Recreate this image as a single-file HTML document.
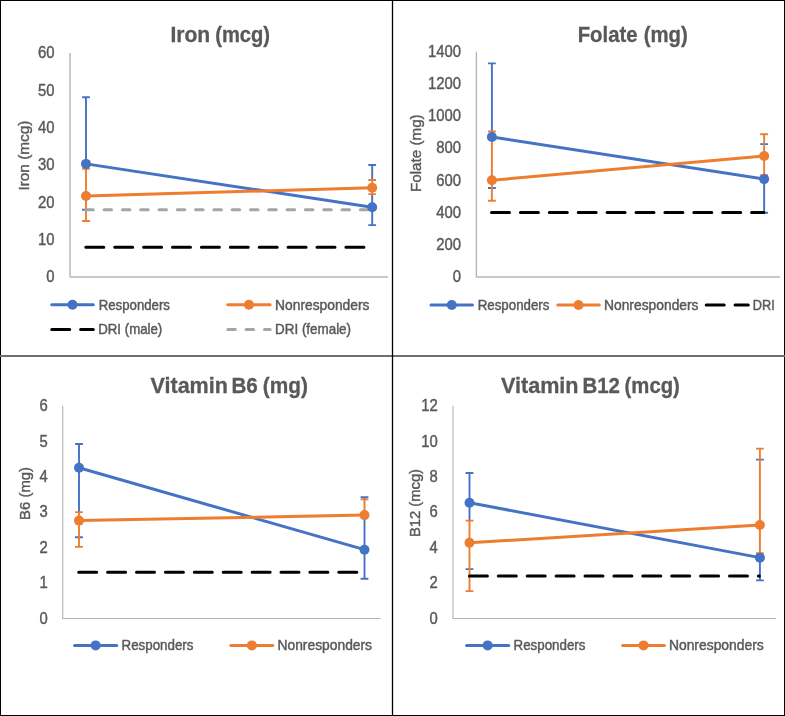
<!DOCTYPE html>
<html><head><meta charset="utf-8"><title>Nutrient intake charts</title>
<style>
html,body{margin:0;padding:0;background:#fff}
svg{display:block;font-family:"Liberation Sans",sans-serif}
</style></head><body>
<svg width="785" height="716" viewBox="0 0 785 716">
<rect x="0" y="0" width="785" height="716" fill="#fff"/>
<path d="M70 53V277.05H388" stroke="#B7B7B7" stroke-width="1.4" stroke-linejoin="round" fill="none"/>
<g font-size="15.6" text-anchor="end" fill="#595959" stroke="#595959" stroke-width="0.4">
<text x="54.5" y="282.4" textLength="8.27" lengthAdjust="spacingAndGlyphs">0</text>
<text x="54.5" y="245.05" textLength="16.54" lengthAdjust="spacingAndGlyphs">10</text>
<text x="54.5" y="207.7" textLength="16.54" lengthAdjust="spacingAndGlyphs">20</text>
<text x="54.5" y="170.35" textLength="16.54" lengthAdjust="spacingAndGlyphs">30</text>
<text x="54.5" y="133.0" textLength="16.54" lengthAdjust="spacingAndGlyphs">40</text>
<text x="54.5" y="95.65" textLength="16.54" lengthAdjust="spacingAndGlyphs">50</text>
<text x="54.5" y="58.3" textLength="16.54" lengthAdjust="spacingAndGlyphs">60</text>
</g>
<text y="42.0" font-size="21.5" font-weight="bold" fill="#595959" stroke="#595959" stroke-width="0.3"><tspan x="170.47" textLength="39.76" lengthAdjust="spacingAndGlyphs">Iron</tspan> <tspan x="215.23" textLength="54.85" lengthAdjust="spacingAndGlyphs">(mcg)</tspan></text>
<text transform="translate(28.7 189.4) rotate(-90)" x="-1.2" y="0" font-size="15.5" fill="#595959" stroke="#595959" stroke-width="0.4" textLength="70.06" lengthAdjust="spacingAndGlyphs">Iron (mcg)</text>
<path d="M86 97.21V168.74M82.1 97.21H89.9M82.1 209.82H89.9" stroke="#4472C4" stroke-width="1.9" fill="none"/>
<path d="M372.2 165.0V179.94M372.2 194.13V225.13M368.3 165.0H376.1M368.3 225.13H376.1" stroke="#4472C4" stroke-width="1.9" fill="none"/>
<path d="M86 168.74V221.03M82.1 168.74H89.9M82.1 221.03H89.9" stroke="#ED7D31" stroke-width="1.9" fill="none"/>
<path d="M372.2 179.94V194.13M368.3 179.94H376.1M368.3 194.13H376.1" stroke="#ED7D31" stroke-width="1.9" fill="none"/>
<path d="M85.8 247.17H371.5" stroke="#000" stroke-width="3.0" stroke-dasharray="18.0 10.9" stroke-linecap="round" fill="none"/>
<path d="M85.8 209.82H371.5" stroke="#A5A5A5" stroke-width="3.0" stroke-dasharray="7.5 10.8" stroke-linecap="round" fill="none"/>
<path d="M86 163.88L372.2 207.28" stroke="#4472C4" stroke-width="3.0" fill="none"/>
<circle cx="86" cy="163.88" r="5.0" fill="#4472C4"/><circle cx="372.2" cy="207.28" r="5.0" fill="#4472C4"/>
<path d="M86 196.0L372.2 187.78" stroke="#ED7D31" stroke-width="3.0" fill="none"/>
<circle cx="86" cy="196.0" r="5.0" fill="#ED7D31"/><circle cx="372.2" cy="187.78" r="5.0" fill="#ED7D31"/>
<path d="M51.7 304.8H93.3" stroke="#4472C4" stroke-width="3.0" stroke-linecap="round"/><circle cx="72.5" cy="304.8" r="5.0" fill="#4472C4"/>
<text x="98.74" y="309.6" font-size="14.2" fill="#595959" stroke="#595959" stroke-width="0.45" textLength="71.2" lengthAdjust="spacingAndGlyphs">Responders</text>
<path d="M227.8 304.8H270.1" stroke="#ED7D31" stroke-width="3.0" stroke-linecap="round"/><circle cx="248.95" cy="304.8" r="5.0" fill="#ED7D31"/>
<text x="275.1" y="309.6" font-size="14.2" fill="#595959" stroke="#595959" stroke-width="0.45" textLength="94.37" lengthAdjust="spacingAndGlyphs">Nonresponders</text>
<path d="M51.7 329.5H93.3" stroke="#000" stroke-width="3.0" stroke-dasharray="18.0 10.9" stroke-linecap="round"/>
<text x="98.24" y="333.8" font-size="14.2" fill="#595959" stroke="#595959" stroke-width="0.45" textLength="64.05" lengthAdjust="spacingAndGlyphs">DRI (male)</text>
<path d="M227.8 329.5H270.1" stroke="#A5A5A5" stroke-width="3.0" stroke-dasharray="7.5 10.8" stroke-linecap="round"/>
<text x="275.12" y="333.8" font-size="14.2" fill="#595959" stroke="#595959" stroke-width="0.45" textLength="75.94" lengthAdjust="spacingAndGlyphs">DRI (female)</text>
<path d="M476.4 51.8V277.0H780" stroke="#B7B7B7" stroke-width="1.4" stroke-linejoin="round" fill="none"/>
<g font-size="15.6" text-anchor="end" fill="#595959" stroke="#595959" stroke-width="0.4">
<text x="461.0" y="282.35" textLength="8.27" lengthAdjust="spacingAndGlyphs">0</text>
<text x="461.0" y="250.1" textLength="24.81" lengthAdjust="spacingAndGlyphs">200</text>
<text x="461.0" y="217.85" textLength="24.81" lengthAdjust="spacingAndGlyphs">400</text>
<text x="461.0" y="185.6" textLength="24.81" lengthAdjust="spacingAndGlyphs">600</text>
<text x="461.0" y="153.35" textLength="24.81" lengthAdjust="spacingAndGlyphs">800</text>
<text x="461.0" y="121.1" textLength="33.08" lengthAdjust="spacingAndGlyphs">1000</text>
<text x="461.0" y="88.85" textLength="33.08" lengthAdjust="spacingAndGlyphs">1200</text>
<text x="461.0" y="56.6" textLength="33.08" lengthAdjust="spacingAndGlyphs">1400</text>
</g>
<text y="42.0" font-size="21.5" font-weight="bold" fill="#595959" stroke="#595959" stroke-width="0.3"><tspan x="577.71" textLength="59.82" lengthAdjust="spacingAndGlyphs">Folate</tspan> <tspan x="643.71" textLength="44.1" lengthAdjust="spacingAndGlyphs">(mg)</tspan></text>
<text transform="translate(420.6 190.9) rotate(-90)" x="-1.1" y="0" font-size="15.5" fill="#595959" stroke="#595959" stroke-width="0.4" textLength="77.66" lengthAdjust="spacingAndGlyphs">Folate (mg)</text>
<path d="M491.9 63.34V131.55M488.0 63.34H495.8M488.0 187.99H495.8" stroke="#4472C4" stroke-width="1.9" fill="none"/>
<path d="M764.15 175.09V212.82M760.25 144.13H768.05M760.25 212.82H768.05" stroke="#4472C4" stroke-width="1.9" fill="none"/>
<path d="M491.9 131.55V200.73M488.0 131.55H495.8M488.0 200.73H495.8" stroke="#ED7D31" stroke-width="1.9" fill="none"/>
<path d="M764.15 134.29V175.09M760.25 134.29H768.05M760.25 175.09H768.05" stroke="#ED7D31" stroke-width="1.9" fill="none"/>
<path d="M491.5 212.5H763.9" stroke="#000" stroke-width="3.0" stroke-dasharray="18.0 10.9" stroke-linecap="round" fill="none"/>
<path d="M491.9 137.03L764.15 179.12" stroke="#4472C4" stroke-width="3.0" fill="none"/>
<circle cx="491.9" cy="137.03" r="5.0" fill="#4472C4"/><circle cx="764.15" cy="179.12" r="5.0" fill="#4472C4"/>
<path d="M491.9 180.25L764.15 156.06" stroke="#ED7D31" stroke-width="3.0" fill="none"/>
<circle cx="491.9" cy="180.25" r="5.0" fill="#ED7D31"/><circle cx="764.15" cy="156.06" r="5.0" fill="#ED7D31"/>
<path d="M431.0 305.0H472.5" stroke="#4472C4" stroke-width="3.0" stroke-linecap="round"/><circle cx="451.75" cy="305.0" r="5.0" fill="#4472C4"/>
<text x="477.73" y="309.6" font-size="14.2" fill="#595959" stroke="#595959" stroke-width="0.45" textLength="71.71" lengthAdjust="spacingAndGlyphs">Responders</text>
<path d="M557.8 305.0H599.3" stroke="#ED7D31" stroke-width="3.0" stroke-linecap="round"/><circle cx="578.55" cy="305.0" r="5.0" fill="#ED7D31"/>
<text x="604.0" y="309.6" font-size="14.2" fill="#595959" stroke="#595959" stroke-width="0.45" textLength="94.54" lengthAdjust="spacingAndGlyphs">Nonresponders</text>
<path d="M706.2 305.0H748.3" stroke="#000" stroke-width="3.0" stroke-dasharray="18.0 10.9" stroke-linecap="round"/>
<text x="752.87" y="309.6" font-size="14.2" fill="#595959" stroke="#595959" stroke-width="0.45" textLength="21.9" lengthAdjust="spacingAndGlyphs">DRI</text>
<path d="M62.7 405.8V618.45" stroke="#B7B7B7" stroke-width="1.15" fill="none"/>
<path d="M62.12 618.45H380.7" stroke="#B7B7B7" stroke-width="1.15" fill="none"/>
<g font-size="15.6" text-anchor="end" fill="#595959" stroke="#595959" stroke-width="0.4">
<text x="47.7" y="623.8" textLength="8.27" lengthAdjust="spacingAndGlyphs">0</text>
<text x="47.7" y="588.35" textLength="8.27" lengthAdjust="spacingAndGlyphs">1</text>
<text x="47.7" y="552.9" textLength="8.27" lengthAdjust="spacingAndGlyphs">2</text>
<text x="47.7" y="517.45" textLength="8.27" lengthAdjust="spacingAndGlyphs">3</text>
<text x="47.7" y="482.0" textLength="8.27" lengthAdjust="spacingAndGlyphs">4</text>
<text x="47.7" y="446.55" textLength="8.27" lengthAdjust="spacingAndGlyphs">5</text>
<text x="47.7" y="411.1" textLength="8.27" lengthAdjust="spacingAndGlyphs">6</text>
</g>
<text y="392.5" font-size="21.5" font-weight="bold" fill="#595959" stroke="#595959" stroke-width="0.3"><tspan x="150.54" textLength="77.32" lengthAdjust="spacingAndGlyphs">Vitamin</tspan> <tspan x="231.5" textLength="26.32" lengthAdjust="spacingAndGlyphs">B6</tspan> <tspan x="262.8" textLength="45.14" lengthAdjust="spacingAndGlyphs">(mg)</tspan></text>
<text transform="translate(29.6 518.8) rotate(-90)" x="-1.09" y="0" font-size="15.5" fill="#595959" stroke="#595959" stroke-width="0.4" textLength="52.93" lengthAdjust="spacingAndGlyphs">B6 (mg)</text>
<path d="M79 444.04V512.1M75.1 444.04H82.9M75.1 537.27H82.9" stroke="#4472C4" stroke-width="1.9" fill="none"/>
<path d="M364.5 497.21V499.34M364.5 515.11V578.75M360.6 497.21H368.4M360.6 578.75H368.4" stroke="#4472C4" stroke-width="1.9" fill="none"/>
<path d="M79 512.1V546.84M75.1 512.1H82.9M75.1 546.84H82.9" stroke="#ED7D31" stroke-width="1.9" fill="none"/>
<path d="M364.5 499.34V515.11M360.6 499.34H368.4M360.6 515.11H368.4" stroke="#ED7D31" stroke-width="1.9" fill="none"/>
<path d="M78.7 572.37H364.0" stroke="#000" stroke-width="3.0" stroke-dasharray="18.0 10.9" stroke-linecap="round" fill="none"/>
<path d="M79 467.79L364.5 549.68" stroke="#4472C4" stroke-width="3.0" fill="none"/>
<circle cx="79" cy="467.79" r="5.0" fill="#4472C4"/><circle cx="364.5" cy="549.68" r="5.0" fill="#4472C4"/>
<path d="M79 520.61L364.5 515.11" stroke="#ED7D31" stroke-width="3.0" fill="none"/>
<circle cx="79" cy="520.61" r="5.0" fill="#ED7D31"/><circle cx="364.5" cy="515.11" r="5.0" fill="#ED7D31"/>
<path d="M74.6 645.4H116.7" stroke="#4472C4" stroke-width="3.0" stroke-linecap="round"/><circle cx="95.65" cy="645.4" r="5.0" fill="#4472C4"/>
<text x="121.53" y="649.8" font-size="14.2" fill="#595959" stroke="#595959" stroke-width="0.45" textLength="71.95" lengthAdjust="spacingAndGlyphs">Responders</text>
<path d="M230.9 645.4H272.8" stroke="#ED7D31" stroke-width="3.0" stroke-linecap="round"/><circle cx="251.85" cy="645.4" r="5.0" fill="#ED7D31"/>
<text x="277.5" y="649.8" font-size="14.2" fill="#595959" stroke="#595959" stroke-width="0.45" textLength="94.54" lengthAdjust="spacingAndGlyphs">Nonresponders</text>
<path d="M453.0 405.8V618.45" stroke="#B7B7B7" stroke-width="1.15" fill="none"/>
<path d="M452.43 618.45H776" stroke="#B7B7B7" stroke-width="1.15" fill="none"/>
<g font-size="15.6" text-anchor="end" fill="#595959" stroke="#595959" stroke-width="0.4">
<text x="437.7" y="623.8" textLength="8.27" lengthAdjust="spacingAndGlyphs">0</text>
<text x="437.7" y="588.35" textLength="8.27" lengthAdjust="spacingAndGlyphs">2</text>
<text x="437.7" y="552.9" textLength="8.27" lengthAdjust="spacingAndGlyphs">4</text>
<text x="437.7" y="517.45" textLength="8.27" lengthAdjust="spacingAndGlyphs">6</text>
<text x="437.7" y="482.0" textLength="8.27" lengthAdjust="spacingAndGlyphs">8</text>
<text x="437.7" y="446.55" textLength="16.54" lengthAdjust="spacingAndGlyphs">10</text>
<text x="437.7" y="411.1" textLength="16.54" lengthAdjust="spacingAndGlyphs">12</text>
</g>
<text y="392.5" font-size="21.5" font-weight="bold" fill="#595959" stroke="#595959" stroke-width="0.3"><tspan x="500.94" textLength="77.59" lengthAdjust="spacingAndGlyphs">Vitamin</tspan> <tspan x="582.4" textLength="37.54" lengthAdjust="spacingAndGlyphs">B12</tspan> <tspan x="624.62" textLength="55.28" lengthAdjust="spacingAndGlyphs">(mcg)</tspan></text>
<text transform="translate(419.7 536.0) rotate(-90)" x="-1.08" y="0" font-size="15.5" fill="#595959" stroke="#595959" stroke-width="0.4" textLength="68.09" lengthAdjust="spacingAndGlyphs">B12 (mcg)</text>
<path d="M469.5 472.93V520.61M465.6 472.93H473.4M465.6 569.17H473.4" stroke="#4472C4" stroke-width="1.9" fill="none"/>
<path d="M759.9 553.22V580.34M756.0 459.63H763.8M756.0 580.34H763.8" stroke="#4472C4" stroke-width="1.9" fill="none"/>
<path d="M469.5 520.61V591.15M465.6 520.61H473.4M465.6 591.15H473.4" stroke="#ED7D31" stroke-width="1.9" fill="none"/>
<path d="M759.9 448.64V553.22M756.0 448.64H763.8M756.0 553.22H763.8" stroke="#ED7D31" stroke-width="1.9" fill="none"/>
<path d="M469.4 575.91H759.4" stroke="#000" stroke-width="3.0" stroke-dasharray="18.0 10.9" stroke-linecap="round" fill="none"/>
<path d="M469.5 502.71L759.9 557.65" stroke="#4472C4" stroke-width="3.0" fill="none"/>
<circle cx="469.5" cy="502.71" r="5.0" fill="#4472C4"/><circle cx="759.9" cy="557.65" r="5.0" fill="#4472C4"/>
<path d="M469.5 542.76L759.9 525.04" stroke="#ED7D31" stroke-width="3.0" fill="none"/>
<circle cx="469.5" cy="542.76" r="5.0" fill="#ED7D31"/><circle cx="759.9" cy="525.04" r="5.0" fill="#ED7D31"/>
<path d="M466.6 645.4H508.7" stroke="#4472C4" stroke-width="3.0" stroke-linecap="round"/><circle cx="487.65" cy="645.4" r="5.0" fill="#4472C4"/>
<text x="513.53" y="649.8" font-size="14.2" fill="#595959" stroke="#595959" stroke-width="0.45" textLength="71.95" lengthAdjust="spacingAndGlyphs">Responders</text>
<path d="M622.7 645.4H664.4" stroke="#ED7D31" stroke-width="3.0" stroke-linecap="round"/><circle cx="643.55" cy="645.4" r="5.0" fill="#ED7D31"/>
<text x="668.89" y="649.8" font-size="14.2" fill="#595959" stroke="#595959" stroke-width="0.45" textLength="94.95" lengthAdjust="spacingAndGlyphs">Nonresponders</text>
<rect x="0.5" y="0.5" width="784" height="715" fill="none" stroke="#000" stroke-width="1"/>
<rect x="391.85" y="0" width="1.3" height="716" fill="#000"/>
<rect x="0" y="355" width="785" height="2" fill="#6e6e6e"/>
<rect x="391.85" y="355" width="1.3" height="2" fill="#000"/>
</svg>
</body></html>
